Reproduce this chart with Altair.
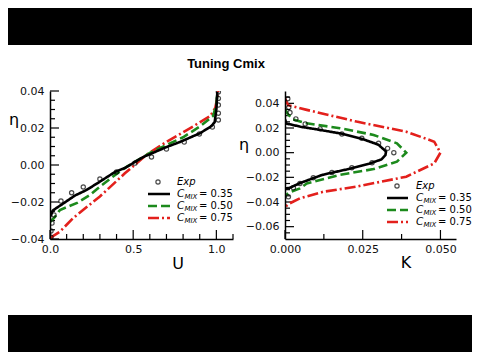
import altair as alt
import pandas as pd

# ---------------- data: left panel (U vs eta) ----------------
exp_u = [0.006, 0.006, 0.012, 0.024, 0.066, 0.13, 0.20, 0.30, 0.40, 0.51, 0.61, 0.70,
         0.807, 0.898, 0.976, 1.012, 1.012, 1.012, 1.012, 1.012]
exp_eta_u = [-0.039, -0.0357, -0.0314, -0.027, -0.0195, -0.015, -0.0119, -0.0076, -0.0038,
             0.001, 0.0043, 0.0086, 0.0124, 0.0168, 0.0205, 0.0243, 0.028, 0.0324, 0.036, 0.0395]

u_035 = [0.0, 0.018, 0.06, 0.15, 0.22, 0.30, 0.39, 0.45, 0.56, 0.70, 0.783, 0.904, 0.97, 0.99, 1.0, 1.006]
eta_u_035 = [-0.028, -0.0245, -0.022, -0.0165, -0.0135, -0.009, -0.0038, -0.0016, 0.0043, 0.0097,
             0.0125, 0.0173, 0.021, 0.0232, 0.030, 0.0395]

u_050 = [0.0, 0.03, 0.06, 0.163, 0.24, 0.30, 0.40, 0.46, 0.60, 0.70, 0.80, 0.904, 0.98, 1.0, 1.006]
eta_u_050 = [-0.0308, -0.028, -0.0243, -0.0205, -0.0162, -0.0117, -0.0048, -0.001, 0.0065, 0.0108,
             0.015, 0.021, 0.0265, 0.0324, 0.039]

u_075 = [0.0, 0.06, 0.14, 0.30, 0.45, 0.58, 0.70, 0.825, 0.90, 0.964, 0.994, 1.006, 1.012]
eta_u_075 = [-0.0395, -0.036, -0.0286, -0.017, -0.0045, 0.0055, 0.0125, 0.019, 0.023, 0.0265,
             0.031, 0.037, 0.0405]

# ---------------- data: right panel (K vs eta) ----------------
exp_k = [0.0009, 0.0012, 0.0016, 0.0035, 0.0065, 0.0113, 0.0183, 0.0247, 0.0301, 0.033, 0.035,
         0.028, 0.0215, 0.0151, 0.0091, 0.0048, 0.0027, 0.0011]
exp_eta_k = [0.0437, 0.0366, 0.0325, 0.0274, 0.0233, 0.0193, 0.0152, 0.0117, 0.0076, 0.0035, 0.0,
             -0.0081, -0.0122, -0.016, -0.0203, -0.025, -0.0285, -0.0358]

k_035 = [0.0, 0.0005, 0.002, 0.005, 0.010, 0.018, 0.025, 0.030, 0.0325, 0.0323, 0.031, 0.027,
         0.020, 0.012, 0.005, 0.0015, 0.0]
eta_k_035 = [0.027, 0.0235, 0.0228, 0.021, 0.019, 0.0155, 0.011, 0.0065, 0.001, -0.002, -0.0055,
             -0.009, -0.0135, -0.018, -0.0245, -0.0285, -0.029]

k_050 = [0.0, 0.001, 0.0026, 0.007, 0.0177, 0.0285, 0.036, 0.039, 0.036, 0.0285, 0.0177, 0.007,
         0.0048, 0.0016, 0.0]
eta_k_050 = [0.035, 0.031, 0.027, 0.0238, 0.0198, 0.0144, 0.0076, 0.0, -0.0073, -0.0133, -0.018,
             -0.025, -0.029, -0.032, -0.035]

k_075 = [0.0, 0.001, 0.007, 0.023, 0.039, 0.048, 0.050, 0.048, 0.039, 0.023, 0.0123, 0.0048,
         0.0016, 0.0]
eta_k_075 = [0.044, 0.0385, 0.0347, 0.0252, 0.017, 0.0089, 0.0, -0.0087, -0.0195, -0.0275, -0.0317,
             -0.037, -0.041, -0.044]

# ---------------- axes / ticks ----------------
u_domain = [0.0, 1.1]
eta_u_domain = [-0.04, 0.04]
k_domain = [0.0, 0.055]
eta_k_domain = [-0.07, 0.05]

u_major = [0.0, 0.5, 1.0]
u_minor = [0.1, 0.2, 0.3, 0.4, 0.6, 0.7, 0.8, 0.9, 1.1]
eta_u_major = [-0.04, -0.02, 0.0, 0.02, 0.04]
eta_u_minor = [-0.035, -0.03, -0.025, -0.015, -0.01, -0.005, 0.005, 0.01, 0.015, 0.025, 0.03, 0.035]
k_major = [0.0, 0.025, 0.05]
k_minor = [0.0125, 0.0375]
eta_k_major = [-0.06, -0.04, -0.02, 0.0, 0.02, 0.04]
eta_k_minor = [-0.065, -0.055, -0.05, -0.045, -0.035, -0.03, -0.025, -0.015, -0.01, -0.005,
               0.005, 0.01, 0.015, 0.025, 0.03, 0.035, 0.045]

legend_values = ["0.35", "0.50", "0.75"]
colors = ["#000000", "#1c8a1c", "#e3201c"]
dashes = [[1, 0], [9, 4], [11, 3, 2, 3]]

FONT = "DejaVu Sans"
H = 148
W1 = 183
W2 = 171
ONE = alt.Data(values=[{}])


def df(xs, ys):
    return pd.DataFrame({"x": xs, "y": ys, "i": list(range(len(xs)))})


def axis_x(fmt, values):
    return alt.Axis(values=values, format=fmt, ticks=False, grid=False, title=None, zindex=1,
                    labelFlush=False, labelOverlap=False, labelPadding=4)


def axis_y(fmt, values):
    return alt.Axis(values=values, format=fmt, ticks=False, grid=False, title=None, zindex=1,
                    labelFlush=False, labelOverlap=False, labelPadding=6)


def txt(x, y, s, size=10, style="normal", weight="normal", align="left", font=FONT):
    return alt.Chart(ONE).mark_text(
        align=align, baseline="middle", fontSize=size, fontStyle=style,
        fontWeight=weight, font=font, color="black"
    ).encode(x=alt.value(x), y=alt.value(y), text=alt.value(s))


def panel(xdom, ydom, width, xmaj, xmin, ymaj, ymin, xfmt, yfmt, exp, curves, leg):
    xs = alt.Scale(domain=xdom, nice=False, zero=False)
    ys = alt.Scale(domain=ydom, nice=False, zero=False)
    X = lambda f: alt.X(f, type="quantitative", scale=xs, axis=axis_x(xfmt, xmaj))
    Y = lambda f: alt.Y(f, type="quantitative", scale=ys, axis=axis_y(yfmt, ymaj))
    layers = []
    # inward tick marks
    for vals, ln in ((xmaj, 9), (xmin, 5)):
        layers.append(alt.Chart(pd.DataFrame({"v": vals})).mark_rule(color="black", strokeWidth=1.2)
                      .encode(x=X("v"), y=alt.value(H), y2=alt.value(H - ln)))
    for vals, ln in ((ymaj, 9), (ymin, 5)):
        layers.append(alt.Chart(pd.DataFrame({"v": vals})).mark_rule(color="black", strokeWidth=1.2)
                      .encode(y=Y("v"), x=alt.value(0), x2=alt.value(ln)))
    # curves (drawn red, green, black)
    for (xs_, ys_), c, d in reversed(list(zip(curves, colors, dashes))):
        layers.append(alt.Chart(df(xs_, ys_)).mark_line(clip=True, strokeWidth=2.6, color=c,
                                                         strokeDash=d)
                      .encode(x=X("x"), y=Y("y"), order="i:Q"))
    layers.append(alt.Chart(df(*exp)).mark_point(shape="circle", filled=False, size=18,
                                                 strokeWidth=1.2, color="black", clip=True)
                  .encode(x=X("x"), y=Y("y")))
    # legend
    mx, y0, lx1, lx2, tx = leg
    layers.append(alt.Chart(ONE).mark_point(shape="circle", filled=False, size=18,
                                            strokeWidth=1.2, color="black")
                  .encode(x=alt.value(mx), y=alt.value(y0)))
    layers.append(txt(tx, y0, "Exp", style="italic"))
    for j, (lab, c, d) in enumerate(zip(legend_values, colors, dashes)):
        yy = y0 + 12 * (j + 1)
        layers.append(alt.Chart(ONE).mark_rule(color=c, strokeWidth=2.6, strokeDash=d)
                      .encode(x=alt.value(lx1), x2=alt.value(lx2), y=alt.value(yy)))
        layers.append(txt(tx, yy, "C", size=10.5, style="italic"))
        layers.append(txt(tx + 7.5, yy + 2.5, "MIX", size=7, style="italic"))
        layers.append(txt(tx + 22, yy, "= " + lab))
    return layers


left_layers = [
    alt.Chart(ONE).mark_rect(color="black").encode(
        x=alt.value(-42), x2=alt.value(422), y=alt.value(-83), y2=alt.value(261)),
    alt.Chart(ONE).mark_rect(color="white").encode(
        x=alt.value(-42), x2=alt.value(422), y=alt.value(-46), y2=alt.value(224)),
    txt(176, -27, "Tuning Cmix", size=13, weight="bold", align="center", font="Liberation Sans"),
    txt(-36, 29, "η", size=16, align="center"),
    txt(128, 173, "U", size=16, align="center"),
]
left_layers += panel(u_domain, eta_u_domain, W1, u_major, u_minor, eta_u_major, eta_u_minor,
                     ".1f", ".2f", (exp_u, exp_eta_u),
                     [(u_035, eta_u_035), (u_050, eta_u_050), (u_075, eta_u_075)],
                     (108, 91, 98, 120, 127))

right_layers = [
    txt(-41, 54, "η", size=16, align="center"),
    txt(121, 172, "K", size=16, align="center"),
]
right_layers += panel(k_domain, eta_k_domain, W2, k_major, k_minor, eta_k_major, eta_k_minor,
                      ".3f", ".2f", (exp_k, exp_eta_k),
                      [(k_035, eta_k_035), (k_050, eta_k_050), (k_075, eta_k_075)],
                      (112, 95, 102, 123, 131))

left = alt.layer(*left_layers).properties(width=W1, height=H)
right = alt.layer(*right_layers).properties(width=W2, height=H)

chart = alt.hconcat(left, right, spacing=52, bounds="flush").properties(
    padding=0
).configure_view(stroke=None).configure_axis(
    domainColor="black", domainWidth=1.5, labelFont=FONT, labelFontSize=11,
    labelColor="#111111"
)

chart.save("out.html", embed_options={"renderer": "svg", "actions": False})
